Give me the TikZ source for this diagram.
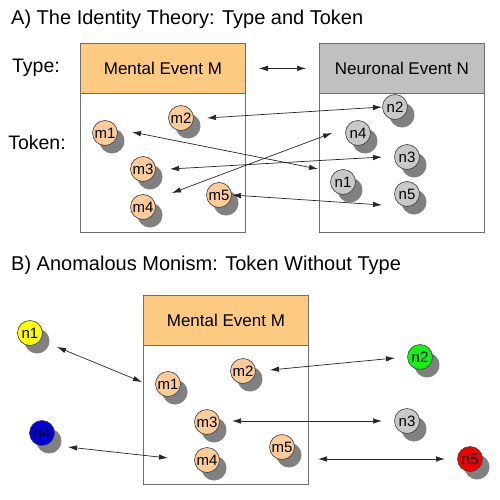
\documentclass[tikz,border=0pt]{standalone}
\usepackage{fontspec}
\setmainfont{Liberation Sans}
\usetikzlibrary{arrows.meta,shadows}
\definecolor{hdrorange}{RGB}{252,202,128}
\definecolor{hdrgray}{RGB}{192,192,192}
\definecolor{mfill}{RGB}{251,204,152}
\definecolor{nfill}{RGB}{200,200,200}
\definecolor{shad}{RGB}{128,128,128}
\definecolor{boxline}{RGB}{110,110,110}
\definecolor{ngreen}{RGB}{20,240,20}
\definecolor{nyellow}{RGB}{255,255,0}
\definecolor{nblue}{RGB}{0,0,210}
\definecolor{nred}{RGB}{240,0,0}
\begin{document}
\begin{tikzpicture}[x=1pt,y=-1pt,
  >={Latex[length=9pt,width=5.5pt]},
  title/.style={anchor=west,inner sep=0pt,font=\fontsize{20}{20}\selectfont},
  side/.style={inner sep=0pt,font=\fontsize{19.5}{19.5}\selectfont},
  hdr/.style={draw=boxline,line width=0.8pt,anchor=north west,minimum width=165pt,minimum height=50pt,inner sep=0pt,font=\fontsize{17}{17}\selectfont},
  body/.style={draw=boxline,line width=0.8pt,fill=white,anchor=north west,minimum width=165pt,minimum height=139pt,inner sep=0pt},
  tok/.style={circle,draw=black!75,line width=0.6pt,minimum size=25pt,inner sep=0pt,font=\fontsize{15}{15}\selectfont,drop shadow={shadow xshift=7pt,shadow yshift=-8pt,opacity=1,fill=shad}},
  link/.style={draw=black!85,line width=0.7pt,<->}
]
\useasboundingbox (0,0) rectangle (500,500);
% ---------- Part A ----------
\node[title] (tA) at (11,19) {A) The Identity Theory: Type and Token};
\node[side] (lType) at (36,68) {Type:};
\node[side] (lToken) at (37,143) {Token:};
\node[body] (bM) at (80,93) {};
\node[hdr,fill=hdrorange] (hM) at (80,43) {Mental Event M};
\node[body] (bN) at (319,93) {};
\node[hdr,fill=hdrgray] (hN) at (319,43) {Neuronal Event N};
\draw[link,shorten <=13pt,shorten >=13pt] (hM.east) -- (hN.west);
\node[tok,fill=mfill] (am1) at (105,133) {m1};
\node[tok,fill=mfill] (am2) at (181,118) {m2};
\node[tok,fill=mfill] (am3) at (143,169) {m3};
\node[tok,fill=mfill] (am4) at (143,207) {m4};
\node[tok,fill=mfill] (am5) at (219,195) {m5};
\node[tok,fill=nfill] (an2) at (395,107) {n2};
\node[tok,fill=nfill] (an4) at (358,133) {n4};
\node[tok,fill=nfill] (an3) at (407,157) {n3};
\node[tok,fill=nfill] (an1) at (343,182) {n1};
\node[tok,fill=nfill] (an5) at (407,194) {n5};
\coordinate (a2s) at (207,118); \coordinate (a2e) at (382,107);
\coordinate (a1s) at (132,132); \coordinate (a1e) at (318,169);
\coordinate (a3s) at (170,169); \coordinate (a3e) at (382,157);
\coordinate (a4s) at (172,193); \coordinate (a4e) at (332,133);
\coordinate (a5s) at (232,195); \coordinate (a5e) at (382,205);
\draw[link] (a2s) -- (a2e);
\draw[link] (a1s) -- (a1e);
\draw[link] (a3s) -- (a3e);
\draw[link] (a4s) -- (a4e);
\draw[link] (a5s) -- (a5e);
% ---------- Part B ----------
\node[title] (tB) at (11,265) {B) Anomalous Monism: Token Without Type};
\node[body] (bMB) at (143,345) {};
\node[hdr,fill=hdrorange] (hMB) at (143,295) {Mental Event M};
\node[tok,fill=mfill] (bm1) at (168,384) {m1};
\node[tok,fill=mfill] (bm2) at (243,371) {m2};
\node[tok,fill=mfill] (bm3) at (207,422) {m3};
\node[tok,fill=mfill] (bm4) at (207,460) {m4};
\node[tok,fill=mfill] (bm5) at (282,447) {m5};
\node[tok,fill=nyellow] (bn1) at (30,333) {n1};
\node[tok,fill=nblue] (bn4) at (42,433) {n4};
\node[tok,fill=ngreen] (bn2) at (420,357) {n2};
\node[tok,fill=nfill] (bn3) at (407,421) {n3};
\node[tok,fill=nred] (bn5) at (470,459) {n5};
\coordinate (b1s) at (57,347);  \coordinate (b1e) at (142,382);
\coordinate (b4s) at (68,447);  \coordinate (b4e) at (168,458);
\coordinate (b2s) at (270,370); \coordinate (b2e) at (395,358);
\coordinate (b3s) at (232,421); \coordinate (b3e) at (382,421);
\coordinate (b5s) at (318,459); \coordinate (b5e) at (445,459);
\draw[link] (b1s) -- (b1e);
\draw[link] (b4s) -- (b4e);
\draw[link] (b2s) -- (b2e);
\draw[link] (b3s) -- (b3e);
\draw[link] (b5s) -- (b5e);
\end{tikzpicture}
\end{document}
